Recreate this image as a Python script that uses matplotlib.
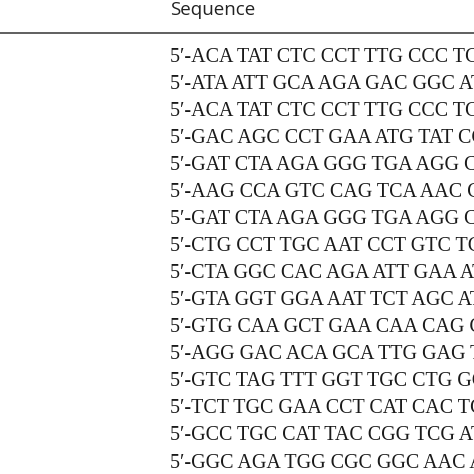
import matplotlib.pyplot as plt

header = "Sequence"
sequences = [
    "5\u2032-ACA TAT CTC CCT TTG CCC TC",
    "5\u2032-ATA ATT GCA AGA GAC GGC AT",
    "5\u2032-ACA TAT CTC CCT TTG CCC TC",
    "5\u2032-GAC AGC CCT GAA ATG TAT CC",
    "5\u2032-GAT CTA AGA GGG TGA AGG CC",
    "5\u2032-AAG CCA GTC CAG TCA AAC CC",
    "5\u2032-GAT CTA AGA GGG TGA AGG CC",
    "5\u2032-CTG CCT TGC AAT CCT GTC TC",
    "5\u2032-CTA GGC CAC AGA ATT GAA AT",
    "5\u2032-GTA GGT GGA AAT TCT AGC AT",
    "5\u2032-GTG CAA GCT GAA CAA CAG CC",
    "5\u2032-AGG GAC ACA GCA TTG GAG TT",
    "5\u2032-GTC TAG TTT GGT TGC CTG GC",
    "5\u2032-TCT TGC GAA CCT CAT CAC TC",
    "5\u2032-GCC TGC CAT TAC CGG TCG AT",
    "5\u2032-GGC AGA TGG CGC GGC AAC AT",
]

fig = plt.figure(figsize=(4.74, 4.74), dpi=100)
W, H = 474, 474

fig.text(170 / W, 1 - 10 / H, header, fontsize=13.5, family="Open Sans",
         color="#222222", va="center", ha="left")
fig.add_artist(plt.Line2D([0, 1], [1 - 33 / H] * 2, color="#444444", lw=1.2))

top, step = 57, 27.07
for i, s in enumerate(sequences):
    fig.text(170 / W, 1 - (top + i * step) / H, s, fontsize=14.4,
             family="Liberation Serif", color="#1a1a1a", va="center", ha="left")

fig.savefig("out.png", dpi=100, facecolor="white")
